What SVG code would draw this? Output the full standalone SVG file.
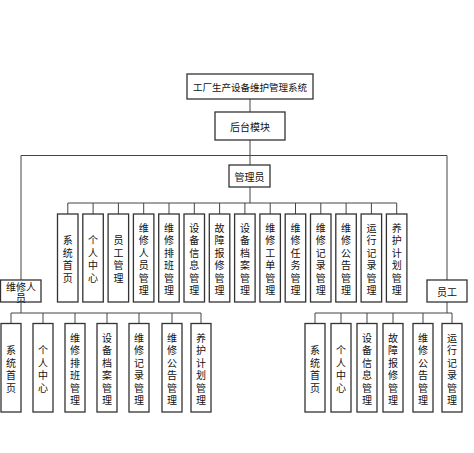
<svg xmlns="http://www.w3.org/2000/svg" width="474" height="453" viewBox="0 0 474 453">
<style>
rect.b{fill:#fff;stroke:#333;stroke-width:1.3}
text{font-family:"Noto Sans CJK SC","Noto Sans CJK TC",sans-serif;font-size:10px;fill:#111;text-anchor:middle;dominant-baseline:central}
#connectors path{fill:none;stroke:#444;stroke-width:1}
</style>
<rect width="474" height="453" fill="#fff"/>
<g id="connectors">
<path d="M250 99V112M250 140V155.5M21 155.5H447M250 155.5V165M250 187V203M67.8 203H396.7"/>
<path d="M67.8 203V214M93.1 203V214M118.4 203V214M143.7 203V214M169 203V214M194.3 203V214M219.6 203V214M244.9 203V214M270.2 203V214M295.5 203V214M320.8 203V214M346.1 203V214M371.4 203V214M396.7 203V214"/>
<path d="M21 155.5V280M21 302V313M11 313H201M11 313V323.5M43 313V323.5M75 313V323.5M107 313V323.5M139 313V323.5M172 313V323.5M201 313V323.5"/>
<path d="M447 155.5V280M447 302V313M315 313H452M315 313V323.5M341 313V323.5M367 313V323.5M393 313V323.5M423 313V323.5M452 313V323.5"/>
</g>
<g id="top"><rect class="b" x="187" y="74" width="126" height="25"/><text x="250" y="86.5" style="font-size:9.5px">工厂生产设备维护管理系统</text></g>
<g id="backend"><rect class="b" x="215" y="112" width="70" height="28"/><text x="250" y="126">后台模块</text></g>
<g id="admin"><rect class="b" x="229" y="165" width="41" height="22"/><text x="249.5" y="176">管理员</text></g>
<g id="a1"><rect class="b" x="57.5" y="214" width="20.5" height="88"/><text><tspan x="67.8" y="239.25">系</tspan><tspan x="67.8" dy="12.5">统</tspan><tspan x="67.8" dy="12.5">首</tspan><tspan x="67.8" dy="12.5">页</tspan></text></g>
<g id="a2"><rect class="b" x="82.8" y="214" width="20.5" height="88"/><text><tspan x="93.1" y="239.25">个</tspan><tspan x="93.1" dy="12.5">人</tspan><tspan x="93.1" dy="12.5">中</tspan><tspan x="93.1" dy="12.5">心</tspan></text></g>
<g id="a3"><rect class="b" x="108.1" y="214" width="20.5" height="88"/><text><tspan x="118.4" y="239.25">员</tspan><tspan x="118.4" dy="12.5">工</tspan><tspan x="118.4" dy="12.5">管</tspan><tspan x="118.4" dy="12.5">理</tspan></text></g>
<g id="a4"><rect class="b" x="133.4" y="214" width="20.5" height="88"/><text><tspan x="143.7" y="226.75">维</tspan><tspan x="143.7" dy="12.5">修</tspan><tspan x="143.7" dy="12.5">人</tspan><tspan x="143.7" dy="12.5">员</tspan><tspan x="143.7" dy="12.5">管</tspan><tspan x="143.7" dy="12.5">理</tspan></text></g>
<g id="a5"><rect class="b" x="158.7" y="214" width="20.5" height="88"/><text><tspan x="169" y="226.75">维</tspan><tspan x="169" dy="12.5">修</tspan><tspan x="169" dy="12.5">排</tspan><tspan x="169" dy="12.5">班</tspan><tspan x="169" dy="12.5">管</tspan><tspan x="169" dy="12.5">理</tspan></text></g>
<g id="a6"><rect class="b" x="184" y="214" width="20.5" height="88"/><text><tspan x="194.3" y="226.75">设</tspan><tspan x="194.3" dy="12.5">备</tspan><tspan x="194.3" dy="12.5">信</tspan><tspan x="194.3" dy="12.5">息</tspan><tspan x="194.3" dy="12.5">管</tspan><tspan x="194.3" dy="12.5">理</tspan></text></g>
<g id="a7"><rect class="b" x="209.3" y="214" width="20.5" height="88"/><text><tspan x="219.6" y="226.75">故</tspan><tspan x="219.6" dy="12.5">障</tspan><tspan x="219.6" dy="12.5">报</tspan><tspan x="219.6" dy="12.5">修</tspan><tspan x="219.6" dy="12.5">管</tspan><tspan x="219.6" dy="12.5">理</tspan></text></g>
<g id="a8"><rect class="b" x="234.6" y="214" width="20.5" height="88"/><text><tspan x="244.9" y="226.75">设</tspan><tspan x="244.9" dy="12.5">备</tspan><tspan x="244.9" dy="12.5">档</tspan><tspan x="244.9" dy="12.5">案</tspan><tspan x="244.9" dy="12.5">管</tspan><tspan x="244.9" dy="12.5">理</tspan></text></g>
<g id="a9"><rect class="b" x="259.9" y="214" width="20.5" height="88"/><text><tspan x="270.2" y="226.75">维</tspan><tspan x="270.2" dy="12.5">修</tspan><tspan x="270.2" dy="12.5">工</tspan><tspan x="270.2" dy="12.5">单</tspan><tspan x="270.2" dy="12.5">管</tspan><tspan x="270.2" dy="12.5">理</tspan></text></g>
<g id="a10"><rect class="b" x="285.2" y="214" width="20.5" height="88"/><text><tspan x="295.5" y="226.75">维</tspan><tspan x="295.5" dy="12.5">修</tspan><tspan x="295.5" dy="12.5">任</tspan><tspan x="295.5" dy="12.5">务</tspan><tspan x="295.5" dy="12.5">管</tspan><tspan x="295.5" dy="12.5">理</tspan></text></g>
<g id="a11"><rect class="b" x="310.5" y="214" width="20.5" height="88"/><text><tspan x="320.8" y="226.75">维</tspan><tspan x="320.8" dy="12.5">修</tspan><tspan x="320.8" dy="12.5">记</tspan><tspan x="320.8" dy="12.5">录</tspan><tspan x="320.8" dy="12.5">管</tspan><tspan x="320.8" dy="12.5">理</tspan></text></g>
<g id="a12"><rect class="b" x="335.8" y="214" width="20.5" height="88"/><text><tspan x="346.1" y="226.75">维</tspan><tspan x="346.1" dy="12.5">修</tspan><tspan x="346.1" dy="12.5">公</tspan><tspan x="346.1" dy="12.5">告</tspan><tspan x="346.1" dy="12.5">管</tspan><tspan x="346.1" dy="12.5">理</tspan></text></g>
<g id="a13"><rect class="b" x="361.1" y="214" width="20.5" height="88"/><text><tspan x="371.4" y="226.75">运</tspan><tspan x="371.4" dy="12.5">行</tspan><tspan x="371.4" dy="12.5">记</tspan><tspan x="371.4" dy="12.5">录</tspan><tspan x="371.4" dy="12.5">管</tspan><tspan x="371.4" dy="12.5">理</tspan></text></g>
<g id="a14"><rect class="b" x="386.4" y="214" width="20.5" height="88"/><text><tspan x="396.7" y="226.75">养</tspan><tspan x="396.7" dy="12.5">护</tspan><tspan x="396.7" dy="12.5">计</tspan><tspan x="396.7" dy="12.5">划</tspan><tspan x="396.7" dy="12.5">管</tspan><tspan x="396.7" dy="12.5">理</tspan></text></g>
<g id="repair"><rect class="b" x="0.5" y="280" width="40.5" height="22"/><text><tspan x="21" y="285.5">维修人</tspan><tspan x="21" y="297">员</tspan></text></g>
<g id="r1"><rect class="b" x="1" y="323.5" width="20" height="88.5"/><text><tspan x="11" y="349">系</tspan><tspan x="11" dy="12.5">统</tspan><tspan x="11" dy="12.5">首</tspan><tspan x="11" dy="12.5">页</tspan></text></g>
<g id="r2"><rect class="b" x="33" y="323.5" width="20" height="88.5"/><text><tspan x="43" y="349">个</tspan><tspan x="43" dy="12.5">人</tspan><tspan x="43" dy="12.5">中</tspan><tspan x="43" dy="12.5">心</tspan></text></g>
<g id="r3"><rect class="b" x="65" y="323.5" width="20" height="88.5"/><text><tspan x="75" y="336.5">维</tspan><tspan x="75" dy="12.5">修</tspan><tspan x="75" dy="12.5">排</tspan><tspan x="75" dy="12.5">班</tspan><tspan x="75" dy="12.5">管</tspan><tspan x="75" dy="12.5">理</tspan></text></g>
<g id="r4"><rect class="b" x="97" y="323.5" width="20" height="88.5"/><text><tspan x="107" y="336.5">设</tspan><tspan x="107" dy="12.5">备</tspan><tspan x="107" dy="12.5">档</tspan><tspan x="107" dy="12.5">案</tspan><tspan x="107" dy="12.5">管</tspan><tspan x="107" dy="12.5">理</tspan></text></g>
<g id="r5"><rect class="b" x="129" y="323.5" width="20" height="88.5"/><text><tspan x="139" y="336.5">维</tspan><tspan x="139" dy="12.5">修</tspan><tspan x="139" dy="12.5">记</tspan><tspan x="139" dy="12.5">录</tspan><tspan x="139" dy="12.5">管</tspan><tspan x="139" dy="12.5">理</tspan></text></g>
<g id="r6"><rect class="b" x="162" y="323.5" width="20" height="88.5"/><text><tspan x="172" y="336.5">维</tspan><tspan x="172" dy="12.5">修</tspan><tspan x="172" dy="12.5">公</tspan><tspan x="172" dy="12.5">告</tspan><tspan x="172" dy="12.5">管</tspan><tspan x="172" dy="12.5">理</tspan></text></g>
<g id="r7"><rect class="b" x="191" y="323.5" width="20" height="88.5"/><text><tspan x="201" y="336.5">养</tspan><tspan x="201" dy="12.5">护</tspan><tspan x="201" dy="12.5">计</tspan><tspan x="201" dy="12.5">划</tspan><tspan x="201" dy="12.5">管</tspan><tspan x="201" dy="12.5">理</tspan></text></g>
<g id="staff"><rect class="b" x="427" y="280" width="40" height="22"/><text x="447" y="291">员工</text></g>
<g id="s1"><rect class="b" x="305" y="323.5" width="20" height="88.5"/><text><tspan x="315" y="349">系</tspan><tspan x="315" dy="12.5">统</tspan><tspan x="315" dy="12.5">首</tspan><tspan x="315" dy="12.5">页</tspan></text></g>
<g id="s2"><rect class="b" x="331" y="323.5" width="20" height="88.5"/><text><tspan x="341" y="349">个</tspan><tspan x="341" dy="12.5">人</tspan><tspan x="341" dy="12.5">中</tspan><tspan x="341" dy="12.5">心</tspan></text></g>
<g id="s3"><rect class="b" x="357" y="323.5" width="20" height="88.5"/><text><tspan x="367" y="336.5">设</tspan><tspan x="367" dy="12.5">备</tspan><tspan x="367" dy="12.5">信</tspan><tspan x="367" dy="12.5">息</tspan><tspan x="367" dy="12.5">管</tspan><tspan x="367" dy="12.5">理</tspan></text></g>
<g id="s4"><rect class="b" x="383" y="323.5" width="20" height="88.5"/><text><tspan x="393" y="336.5">故</tspan><tspan x="393" dy="12.5">障</tspan><tspan x="393" dy="12.5">报</tspan><tspan x="393" dy="12.5">修</tspan><tspan x="393" dy="12.5">管</tspan><tspan x="393" dy="12.5">理</tspan></text></g>
<g id="s5"><rect class="b" x="413" y="323.5" width="20" height="88.5"/><text><tspan x="423" y="336.5">维</tspan><tspan x="423" dy="12.5">修</tspan><tspan x="423" dy="12.5">公</tspan><tspan x="423" dy="12.5">告</tspan><tspan x="423" dy="12.5">管</tspan><tspan x="423" dy="12.5">理</tspan></text></g>
<g id="s6"><rect class="b" x="442" y="323.5" width="20" height="88.5"/><text><tspan x="452" y="336.5">运</tspan><tspan x="452" dy="12.5">行</tspan><tspan x="452" dy="12.5">记</tspan><tspan x="452" dy="12.5">录</tspan><tspan x="452" dy="12.5">管</tspan><tspan x="452" dy="12.5">理</tspan></text></g>
</svg>
